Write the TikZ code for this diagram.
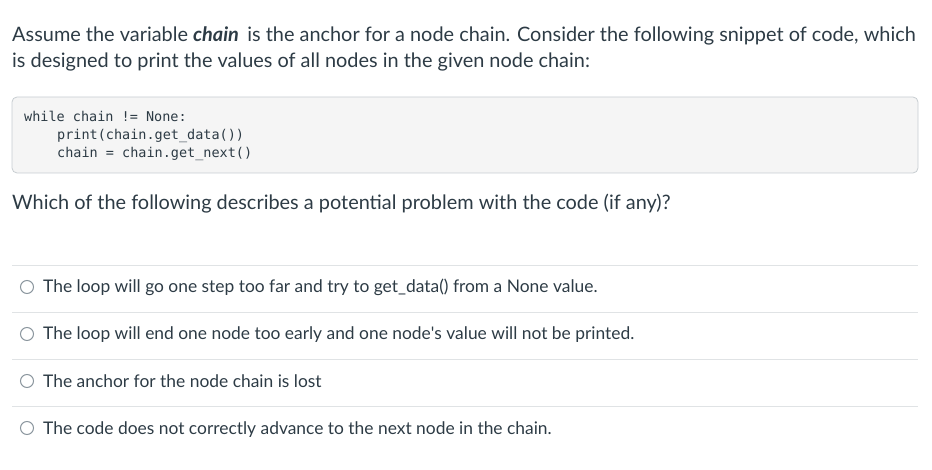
\documentclass[tikz,border=0pt]{standalone}
\usepackage{fontspec}
\setmainfont{Lato}
\setmonofont{DejaVu Sans Mono}
\definecolor{txt}{HTML}{2D3B45}
\definecolor{codebg}{HTML}{F5F5F5}
\definecolor{codeborder}{HTML}{C7CDD1}
\definecolor{sep}{HTML}{E0E3E5}
\definecolor{radio}{HTML}{8B969E}
\begin{document}
\begin{tikzpicture}[x=1pt,y=-1pt,
  body/.style={anchor=base west,inner sep=0,text=txt,font=\fontsize{19.9}{24}\selectfont},
  code/.style={anchor=base west,inner sep=0,text=txt,font=\ttfamily\fontsize{13.5}{16}\selectfont},
  opt/.style={anchor=base west,inner sep=0,text=txt,font=\fontsize{17.4}{21}\selectfont},
  rad/.style={circle,draw=radio,line width=1pt,minimum size=13pt,inner sep=0},
  seprule/.style={draw=sep,line width=0.8pt}]
\useasboundingbox (0,0) rectangle (932,470);
\node[body] (l1) at (12,42) {Assume the variable \textbf{\textit{chain}}\, is the anchor for a node chain. Consider the following snippet of code, which};
\node[body] (l2) at (12,68) {is designed to print the values of all nodes in the given node chain:};
\node[draw=codeborder,fill=codebg,rounded corners=5pt,line width=0.8pt,minimum width=906pt,minimum height=76pt,inner sep=0] (box) at (465,135) {};
\node[code] (c1) at (24,122) {while chain != None:};
\node[code] (c2) at (57,140) {print(chain.get\_data())};
\node[code] (c3) at (57,158) {chain = chain.get\_next()};
\node[body] (q) at (12,210) {Which of the following describes a potential problem with the code (if any)?};
\foreach \y/\n in {265/s1,312/s2,359/s3,406/s4} {\coordinate (\n a) at (12,\y); \coordinate (\n b) at (918,\y); \draw[seprule] (\n a) -- (\n b);}
\node[rad] (r1) at (27,287) {};
\node[rad] (r2) at (27,334) {};
\node[rad] (r3) at (27,381) {};
\node[rad] (r4) at (27,428) {};
\node[opt] (o1) at (43,293) {The loop will go one step too far and try to get\_data() from a None value.};
\node[opt] (o2) at (43,340) {The loop will end one node too early and one node\textquotesingle s value will not be printed.};
\node[opt] (o3) at (43,387) {The anchor for the node chain is lost};
\node[opt] (o4) at (43,434) {The code does not correctly advance to the next node in the chain.};
\end{tikzpicture}
\end{document}
